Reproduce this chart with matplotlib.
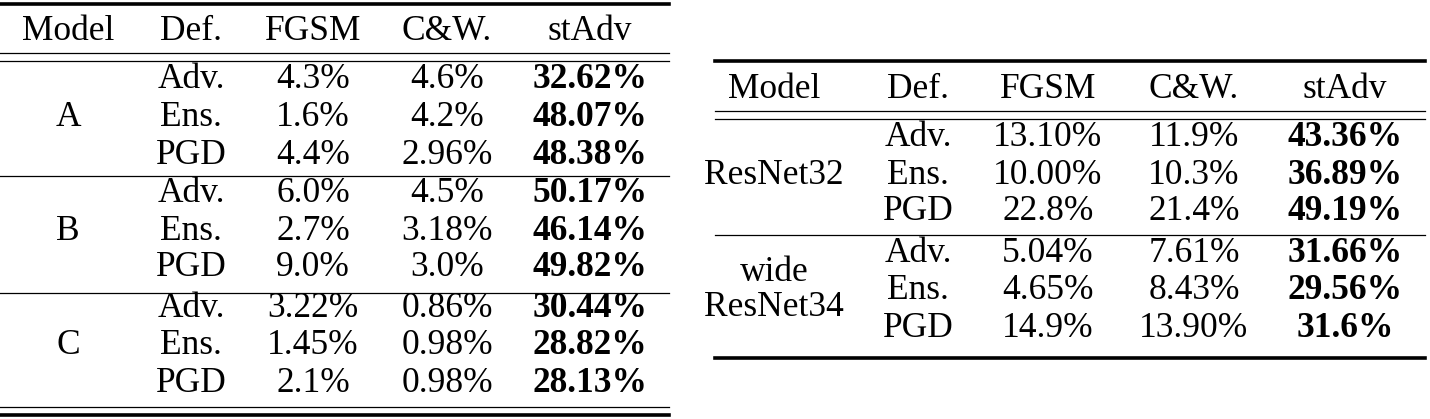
import matplotlib
matplotlib.use("Agg")
import matplotlib.pyplot as plt
from matplotlib.lines import Line2D

W, H = 1430, 419
fig = plt.figure(figsize=(W/100, H/100), dpi=100)
FONT = "Liberation Serif"
FS = 25.5

headers = ["Model", "Def.", "FGSM", "C&W.", "stAdv"]
defenses = ["Adv.", "Ens.", "PGD"]

left_models = ["A", "B", "C"]
left_fgsm = [["4.3%", "1.6%", "4.4%"], ["6.0%", "2.7%", "9.0%"], ["3.22%", "1.45%", "2.1%"]]
left_cw = [["4.6%", "4.2%", "2.96%"], ["4.5%", "3.18%", "3.0%"], ["0.86%", "0.98%", "0.98%"]]
left_stadv = [["32.62%", "48.07%", "48.38%"], ["50.17%", "46.14%", "49.82%"], ["30.44%", "28.82%", "28.13%"]]

right_models = ["ResNet32", "wide\nResNet34"]
right_fgsm = [["13.10%", "10.00%", "22.8%"], ["5.04%", "4.65%", "14.9%"]]
right_cw = [["11.9%", "10.3%", "21.4%"], ["7.61%", "8.43%", "13.90%"]]
right_stadv = [["43.36%", "36.89%", "49.19%"], ["31.66%", "29.56%", "31.6%"]]


def T(x, y, s, bold=False, ls=1.0):
    fig.text(x / W, 1 - y / H, s, ha="center", va="center", fontsize=FS,
             family=FONT, fontweight="bold" if bold else "normal", linespacing=ls)


def L(x0, x1, y, lw):
    fig.add_artist(Line2D([x0 / W, x1 / W], [1 - y / H, 1 - y / H], color="black", lw=lw))


def table(x0, x1, cols, y_top, y_head, y_d1, y_d2, rows, y_rules, bottom, models,
          fgsm, cw, st):
    L(x0, x1, y_top, 2.6)
    for c, h in zip(cols, headers):
        T(c, y_head, h)
    L(x0, x1, y_d1, 0.9)
    L(x0, x1, y_d2, 0.9)
    for g, m in enumerate(models):
        ys = rows[g]
        T(cols[0], ys[1], m, ls=1.05)
        for i in range(3):
            T(cols[1], ys[i], defenses[i])
            T(cols[2], ys[i], fgsm[g][i])
            T(cols[3], ys[i], cw[g][i])
            T(cols[4], ys[i], st[g][i], bold=True)
    for y in y_rules:
        L(x0, x1, y, 0.9)
    for y, lw in bottom:
        L(x0, x1, y, lw)


table(0, 669, [68, 191, 313, 447, 590], 4, 32, 53, 61,
      [[80, 117, 155], [193, 231, 268], [308, 345, 383]], [176, 293],
      [(407, 0.9), (415, 2.6)], left_models, left_fgsm, left_cw, left_stadv)

table(715, 1425, [774, 918, 1048, 1194, 1345], 61, 89, 111, 119,
      [[137, 175, 212], [253, 290, 328]], [235],
      [(358, 2.6)], right_models, right_fgsm, right_cw, right_stadv)

fig.savefig("out.png", dpi=100, facecolor="white")
